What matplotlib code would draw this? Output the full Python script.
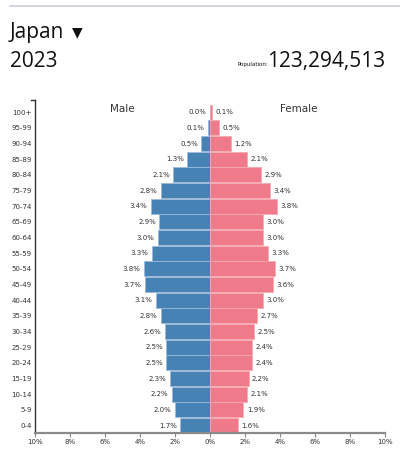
import numpy as np
import matplotlib.pyplot as plt
from matplotlib.lines import Line2D

plt.rcParams.update({
    "font.family": ["DejaVu Sans"],
})

# Data (percent of total population), youngest first
age_groups = ['0-4', '5-9', '10-14', '15-19', '20-24', '25-29', '30-34', '35-39',
              '40-44', '45-49', '50-54', '55-59', '60-64', '65-69', '70-74',
              '75-79', '80-84', '85-89', '90-94', '95-99', '100+']
male = [1.7, 2.0, 2.2, 2.3, 2.5, 2.5, 2.6, 2.8, 3.1, 3.7, 3.8, 3.3, 3.0, 2.9, 3.4,
        2.8, 2.1, 1.3, 0.5, 0.1, 0.0]
female = [1.6, 1.9, 2.1, 2.2, 2.4, 2.4, 2.5, 2.7, 3.0, 3.6, 3.7, 3.3, 3.0, 3.0, 3.8,
          3.4, 2.9, 2.1, 1.2, 0.5, 0.1]
x_ticks = [-10, -8, -6, -4, -2, 0, 2, 4, 6, 8, 10]

country = 'Japan'
year = '2023'
population = '123,294,513'

male_color = '#4682b4'
female_color = '#ef7a89'
text_color = '#333333'

fig = plt.figure(figsize=(4, 4.5), dpi=100)
ax = fig.add_axes([0.0875, 0.038, 0.875, 0.740])

y = np.arange(len(age_groups))
m = np.array(male)
f = np.array(female)

ax.barh(y, -m, height=0.96, color=male_color, edgecolor='#9bbbdb', linewidth=0.6)
ax.barh(y, f, height=0.96, color=female_color, edgecolor='#f6a9b3', linewidth=0.6)

for yi, v in zip(y, m):
    ax.annotate(f'{v:.1f}%', (-v, yi), xytext=(-2.5, 0), textcoords='offset points',
                ha='right', va='center', fontsize=5, color=text_color)
for yi, v in zip(y, f):
    ax.annotate(f'{v:.1f}%', (v, yi), xytext=(2.5, 0), textcoords='offset points',
                ha='left', va='center', fontsize=5, color=text_color)

ax.set_xlim(-10, 10)
ax.set_ylim(-0.47, len(age_groups) - 0.21)

ax.set_yticks(y)
ax.set_yticklabels(age_groups, fontsize=5, color=text_color)
ax.tick_params(axis='y', length=0, pad=2.5)

ax.set_xticks(x_ticks)
ax.set_xticklabels([f'{abs(t)}%' for t in x_ticks], fontsize=5, color=text_color)
ax.tick_params(axis='x', length=3, width=0.8, color='#888888', pad=1.5)

for side in ['top', 'right']:
    ax.spines[side].set_visible(False)
ax.spines['left'].set_color('#333333')
ax.spines['left'].set_linewidth(1)
ax.spines['bottom'].set_color('#8a8a8a')
ax.spines['bottom'].set_linewidth(1.6)

# outer tick at top of the y axis
ax.add_line(Line2D([-0.012, 0], [1, 1], transform=ax.transAxes, color='#333333',
                   linewidth=1, clip_on=False))

ax.text(0.25, 0.973, 'Male', transform=ax.transAxes, ha='center', va='center',
        fontsize=7.5, color=text_color)
ax.text(0.753, 0.973, 'Female', transform=ax.transAxes, ha='center', va='center',
        fontsize=7.5, color=text_color)

# header
fig.add_artist(Line2D([0.025, 1.0], [1 - 6 / 450, 1 - 6 / 450], color='#cfcbd8',
                      linewidth=1.2))
fig.text(0.025, 1 - 38 / 450, country, fontsize=15, color='#111111',
         family=['Open Sans', 'DejaVu Sans'], va='baseline')
fig.text(0.180, 1 - 36 / 450, '\u25bc', fontsize=10, color='#111111', va='baseline')
fig.text(0.025, 1 - 67 / 450, year, fontsize=15, color='#111111',
         family=['Open Sans', 'DejaVu Sans'], va='baseline')
fig.text(0.67, 1 - 66 / 450, 'Population:', fontsize=4, color='#111111',
         ha='right', va='baseline')
fig.text(0.963, 1 - 67 / 450, population, fontsize=15, color='#111111',
         family=['Open Sans', 'DejaVu Sans'], ha='right', va='baseline')

plt.savefig('out.png', dpi=100)
